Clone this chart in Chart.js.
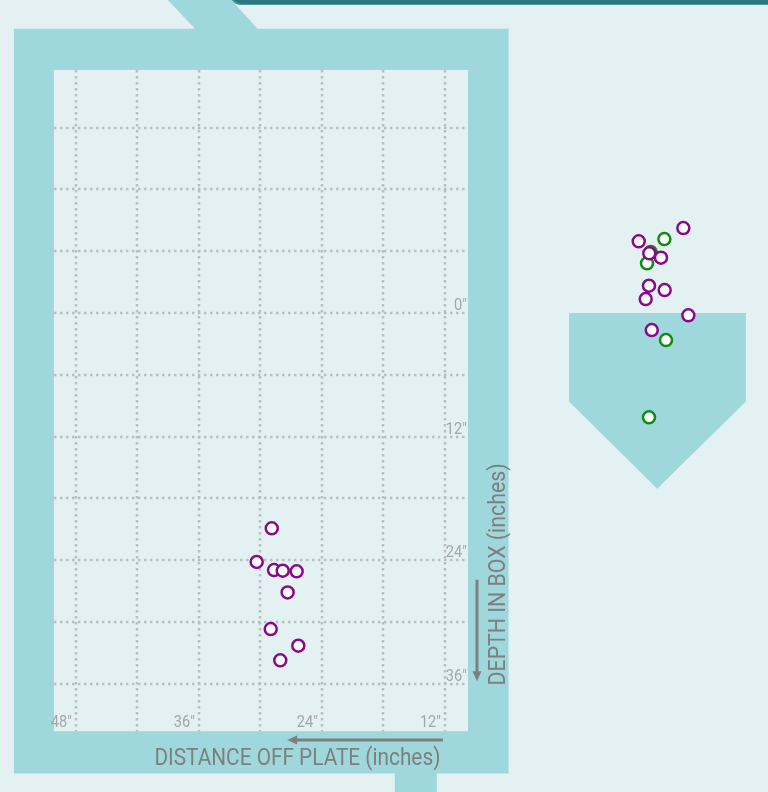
<!DOCTYPE html>
<html><head><meta charset="utf-8">
<script src="https://cdn.jsdelivr.net/npm/chart.js@4/dist/chart.umd.min.js"></script>
<style>
html,body{margin:0;padding:0;background:#e4f1f3;overflow:hidden}
#c{display:block}
</style></head>
<body>
<canvas id="c" width="768" height="792" style="width:768px;height:792px"></canvas>
<script>
// ---- data (inches) ----
const purpleX = [28.9, 30.37, 28.68, 27.83, 26.47, 27.35, 29.0, 26.31, 28.07,
                 -11.25, -6.90, -7.93, -9.07, -7.90, -9.43, -7.58, -11.74, -8.17];
const purpleY = [20.9, 24.17, 24.95, 25.02, 25.08, 27.12, 30.68, 32.3, 33.72,
                 -8.25, -6.96, -5.80, -5.37, -2.65, -2.23, -1.36, 0.22, 1.65];
const greenX = [-9.40, -8.07, -7.71, -9.56, -7.90];
const greenY = [-7.18, -5.92, -4.83, 2.62, 10.13];
const xTickLabels = [48, 36, 24, 12];
const yTickLabels = [0, 12, 24, 36];
const xGridLines = [48, 42, 36, 30, 24, 18, 12];
const yGridLines = [-18, -12, -6, 0, 6, 12, 18, 24, 30, 36];
const xTitle = 'DISTANCE OFF PLATE (inches)';
const yTitle = 'DEPTH IN BOX (inches)';

// ---- geometry (inches) ----
const outerBox = {x0: 5.8, x1: 54.05, y0: -27.6, y1: 44.7};
const innerBox = {x0: 9.76, x1: 50.15, y0: -23.6, y1: 40.6};
const plate = [[-0.1, 0], [-17.35, 0], [-17.35, 8.6], [-8.7, 17.05], [-0.1, 8.6]];

const COL_BG = '#e4f1f3', COL_FRAME = '#9fd8dc', COL_GRID = '#b9bfc0',
      COL_TICK = '#a3a7a8', COL_TITLE = '#7f7f7f';

function toPts(xs, ys) { return xs.map((x, i) => ({x: x, y: ys[i]})); }

function condText(ctx, text, x, y, size, color, align, targetW, weight) {
  ctx.save();
  ctx.font = (weight || '400') + ' ' + size + 'px Roboto, "Noto Sans", sans-serif';
  const w = ctx.measureText(text).width;
  const s = targetW ? targetW / w : 0.86;
  ctx.translate(x, y);
  ctx.scale(s, 1);
  ctx.fillStyle = color;
  ctx.textBaseline = 'alphabetic';
  ctx.textAlign = 'left';
  let dx = 0;
  if (align === 'right') dx = -w;
  else if (align === 'center') dx = -w / 2;
  ctx.fillText(text, dx, 0);
  ctx.restore();
}

function arrow(ctx, x1, y1, x2, y2, color) {
  const ang = Math.atan2(y2 - y1, x2 - x1);
  const hl = 10, hw = 4.5;
  ctx.save();
  ctx.strokeStyle = color; ctx.fillStyle = color; ctx.lineWidth = 3;
  ctx.beginPath();
  ctx.moveTo(x1, y1);
  ctx.lineTo(x2 - Math.cos(ang) * (hl - 2), y2 - Math.sin(ang) * (hl - 2));
  ctx.stroke();
  ctx.beginPath();
  ctx.moveTo(x2, y2);
  ctx.lineTo(x2 - Math.cos(ang) * hl - Math.sin(ang) * hw, y2 - Math.sin(ang) * hl + Math.cos(ang) * hw);
  ctx.lineTo(x2 - Math.cos(ang) * hl + Math.sin(ang) * hw, y2 - Math.sin(ang) * hl - Math.cos(ang) * hw);
  ctx.closePath();
  ctx.fill();
  ctx.restore();
}

const fieldPlugin = {
  id: 'field',
  beforeDatasetsDraw(chart) {
    const ctx = chart.ctx;
    const xs = chart.scales.x, ys = chart.scales.y;
    const X = v => xs.getPixelForValue(v), Y = v => ys.getPixelForValue(v);
    ctx.save();
    // background
    ctx.fillStyle = COL_BG;
    ctx.fillRect(0, 0, chart.width, chart.height);
    // dark header bar
    ctx.fillStyle = '#4f9aa0';
    ctx.beginPath();
    ctx.roundRect(X(33.0), Y(-34), chart.width + 20 - X(33.0), Y(-29.9) - Y(-34), 11);
    ctx.fill();
    ctx.fillStyle = '#2b787e';
    ctx.beginPath();
    ctx.roundRect(X(32.8), Y(-34), chart.width + 20 - X(32.8), Y(-30.0) - Y(-34), 10);
    ctx.fill();
    // diagonal stripe
    ctx.fillStyle = COL_FRAME;
    ctx.beginPath();
    ctx.moveTo(X(41.5), Y(-33));
    ctx.lineTo(X(35.2), Y(-33));
    ctx.lineTo(X(30.2), Y(-27.5));
    ctx.lineTo(X(36.3), Y(-27.5));
    ctx.closePath();
    ctx.fill();
    // frame
    ctx.fillRect(X(outerBox.x1), Y(outerBox.y0), X(outerBox.x0) - X(outerBox.x1), Y(outerBox.y1) - Y(outerBox.y0));
    // bottom stub
    ctx.fillRect(X(16.9), Y(44), X(12.8) - X(16.9), chart.height - Y(44) + 5);
    // inner
    ctx.fillStyle = COL_BG;
    ctx.fillRect(X(innerBox.x1), Y(innerBox.y0), X(innerBox.x0) - X(innerBox.x1), Y(innerBox.y1) - Y(innerBox.y0));
    // grid
    ctx.strokeStyle = COL_GRID; ctx.lineWidth = 2.5; ctx.setLineDash([2.5, 3.5]);
    xGridLines.forEach(v => {
      const px = Math.round(X(v));
      ctx.beginPath(); ctx.moveTo(px, Y(innerBox.y0)); ctx.lineTo(px, Y(innerBox.y1)); ctx.stroke();
    });
    yGridLines.forEach(v => {
      const py = Math.round(Y(v));
      ctx.beginPath(); ctx.moveTo(X(innerBox.x1), py); ctx.lineTo(X(innerBox.x0), py); ctx.stroke();
    });
    ctx.setLineDash([]);
    // tick labels
    yTickLabels.forEach(v => {
      condText(ctx, v + '"', X(innerBox.x0) - 1, Y(v) - 3, 17, COL_TICK, 'right');
    });
    xTickLabels.forEach(v => {
      condText(ctx, v + '"', X(v) - 4, Y(innerBox.y1) - 4, 17, COL_TICK, 'right');
    });
    // plate
    ctx.fillStyle = COL_FRAME;
    ctx.beginPath();
    plate.forEach((p, i) => { if (i === 0) ctx.moveTo(X(p[0]), Y(p[1])); else ctx.lineTo(X(p[0]), Y(p[1])); });
    ctx.closePath();
    ctx.fill();
    // axis titles + arrows
    arrow(ctx, X(12.2), Y(41.46), X(27.4), Y(41.46), COL_TITLE);
    condText(ctx, xTitle, X(12.45), Y(43.9), 23, COL_TITLE, 'right', 286);
    arrow(ctx, X(8.88), Y(25.9), X(8.88), Y(35.75), COL_TITLE);
    ctx.save();
    ctx.translate(X(6.15), Y(36.15));
    ctx.rotate(-Math.PI / 2);
    condText(ctx, yTitle, 0, 0, 23, COL_TITLE, 'left', 222);
    ctx.restore();
    ctx.restore();
  }
};

new Chart(document.getElementById('c'), {
  type: 'scatter',
  data: {
    datasets: [
      {label: 'purple', data: toPts(purpleX, purpleY), borderColor: '#880a88', backgroundColor: '#ffffff',
       pointRadius: 6, pointBorderWidth: 2.5, pointHoverRadius: 6},
      {label: 'green', data: toPts(greenX, greenY), borderColor: '#138a13', backgroundColor: '#ffffff',
       pointRadius: 6, pointBorderWidth: 2.5, pointHoverRadius: 6}
    ]
  },
  options: {
    responsive: false,
    animation: false,
    layout: {padding: 0, autoPadding: false},
    plugins: {legend: {display: false}, tooltip: {enabled: false}},
    scales: {
      x: {type: 'linear', reverse: true, min: -19.51, max: 55.41, display: false},
      y: {type: 'linear', reverse: true, min: -30.39, max: 46.5, display: false}
    }
  },
  plugins: [fieldPlugin]
});
</script>
</body></html>
